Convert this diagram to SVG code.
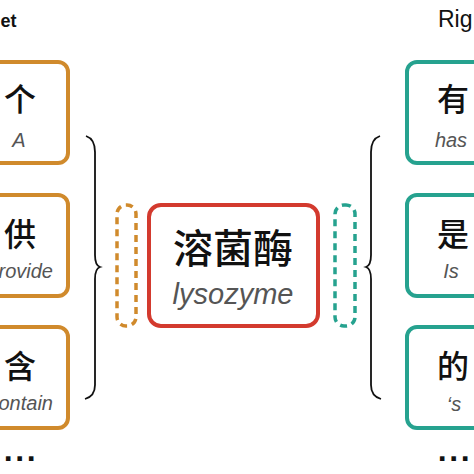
<svg xmlns="http://www.w3.org/2000/svg" width="474" height="474" viewBox="0 0 474 474">
<style>
.box{fill:#fff;stroke-width:4}
.or{stroke:#D08A2C}
.te{stroke:#26A28F}
.zh{font-family:"Noto Sans CJK SC","Noto Sans",sans-serif;font-weight:500;fill:#111;text-anchor:middle}
.en{font-family:"Liberation Sans",Arial,sans-serif;font-style:italic;fill:#555;text-anchor:middle}
.en.end{text-anchor:end}
.dash{fill:none;stroke-width:3.5;stroke-dasharray:7 5}
.brace{fill:none;stroke:#111;stroke-width:1.8}
.dots{font-family:"Liberation Sans",Arial,sans-serif;font-weight:bold;font-size:32px;letter-spacing:2.6px;fill:#111}
</style>
<rect width="474" height="474" fill="#fff"/>
<text x="0.5" y="27" font-family="Liberation Sans,Arial,sans-serif" font-weight="bold" font-size="18" fill="#111">et</text>
<text x="438" y="27" font-family="Liberation Sans,Arial,sans-serif" font-size="23" fill="#111">Rig</text>
<g id="left1"><rect class="box or" x="-30" y="62" width="98" height="101" rx="10"/><text class="zh" x="20" y="111" font-size="32">个</text><text class="en" x="19" y="147" font-size="20">A</text></g>
<g id="left2"><rect class="box or" x="-30" y="195" width="98" height="101" rx="10"/><text class="zh" x="20" y="246" font-size="32">供</text><text class="en end" x="53" y="278" font-size="20">rovide</text></g>
<g id="left3"><rect class="box or" x="-30" y="327" width="98" height="101" rx="10"/><text class="zh" x="20" y="378" font-size="32">含</text><text class="en end" x="53" y="410" font-size="20">ontain</text></g>
<g id="right1"><rect class="box te" x="407" y="62" width="98" height="101" rx="10"/><text class="zh" x="453" y="111" font-size="32">有</text><text class="en" x="451" y="147" font-size="20">has</text></g>
<g id="right2"><rect class="box te" x="407" y="195" width="98" height="101" rx="10"/><text class="zh" x="453" y="246" font-size="32">是</text><text class="en" x="451" y="278" font-size="20">Is</text></g>
<g id="right3"><rect class="box te" x="407" y="327" width="98" height="101" rx="10"/><text class="zh" x="453" y="378" font-size="32">的</text><text class="en" x="454" y="411" font-size="20">‘s</text></g>
<g id="center"><rect class="box" stroke="#D33A2E" x="149" y="205" width="169" height="121" rx="12"/><text class="zh" x="233" y="263" font-size="40">溶菌酶</text><text class="en" x="233" y="304" font-size="29">lysozyme</text></g>
<g id="slotL"><rect class="dash or" x="117" y="205" width="19" height="121" rx="9"/></g>
<g id="slotR"><rect class="dash te" x="335" y="205" width="20" height="121" rx="9"/></g>
<g id="connectors">
<path class="brace" d="M86,136 C92,138 95,143 95,152 L95,255 C95,262 97,266 100,267 C97,268 95,272 95,279 L95,385 C95,393 92,397 85,399"/>
<path class="brace" d="M380,136 C374,138 371,143 371,152 L371,255 C371,262 369,266 366,267 C369,268 371,272 371,279 L371,385 C371,393 374,397 381,399"/>
</g>
<text class="dots" x="3.8" y="461">...</text>
<text class="dots" x="437.8" y="461">...</text>
</svg>
